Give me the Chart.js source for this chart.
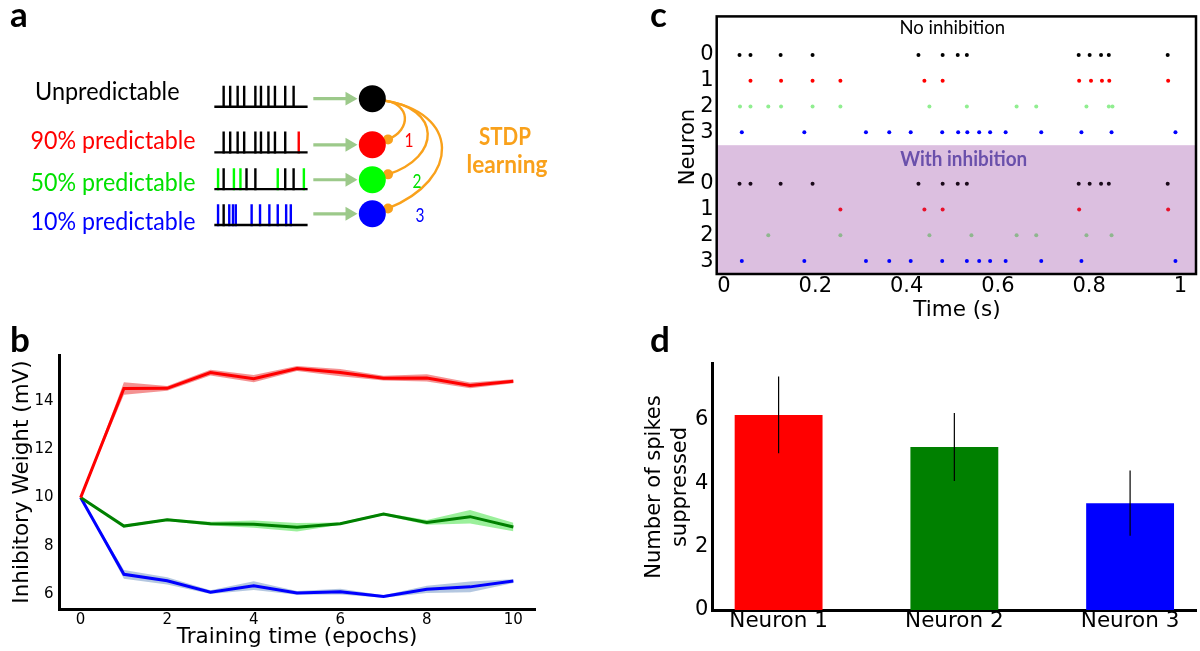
<!DOCTYPE html>
<html lang="en">
<head>
<meta charset="UTF-8">
<title>Inhibitory STDP figure</title>
<script src="https://cdn.jsdelivr.net/npm/chart.js@4.4.1/dist/chart.umd.min.js"></script>
<style>
  body { margin: 0; background: #fff; }
  #fig { position: relative; width: 1200px; height: 651px; overflow: hidden; background: #fff; }
  canvas { position: absolute; }
</style>
</head>
<body>
<div id="fig">
  <canvas id="chartA" width="560" height="260" style="left:0px;top:0px"></canvas>
  <canvas id="chartB" width="560" height="331" style="left:0px;top:320px"></canvas>
  <canvas id="chartC" width="560" height="330" style="left:640px;top:0px"></canvas>
  <canvas id="chartD" width="590" height="331" style="left:610px;top:320px"></canvas>
</div>
<script>
// ---------- data ----------
// panel a: input trains (spike time as fraction of the train, 1 = spike in the neuron's own colour)
const inputNames = ['Unpredictable', '90% predictable', '50% predictable', '10% predictable'];
const neuronColors = ['#000000', '#ff0000', '#00ff00', '#0000ff'];
const textColors = ['#000000', '#ff0000', '#00e000', '#0000ff'];
const trainSpikes = [
  [0.10, 0.17, 0.25, 0.32, 0.44, 0.50, 0.58, 0.65, 0.76, 0.85],
  [0.10, 0.17, 0.25, 0.32, 0.44, 0.50, 0.58, 0.65, 0.76, 0.905],
  [0.04, 0.10, 0.21, 0.28, 0.345, 0.44, 0.68, 0.76, 0.85, 0.96],
  [0.04, 0.10, 0.16, 0.20, 0.23, 0.40, 0.49, 0.59, 0.68, 0.77, 0.82]
];
const trainOwn = [
  [0, 0, 0, 0, 0, 0, 0, 0, 0, 0],
  [0, 0, 0, 0, 0, 0, 0, 0, 0, 1],
  [1, 0, 1, 1, 0, 0, 1, 0, 0, 1],
  [1, 0, 1, 1, 1, 1, 1, 1, 1, 1, 1]
];

// panel b: inhibitory weight over training
const epochs = [0, 1, 2, 3, 4, 5, 6, 7, 8, 9, 10];
const redMean   = [10, 14.52, 14.53, 15.18, 14.93, 15.35, 15.18, 14.95, 14.96, 14.65, 14.82];
const redSem    = [0, 0.26, 0.10, 0.12, 0.15, 0.10, 0.15, 0.10, 0.15, 0.12, 0.08];
const greenMean = [10, 8.82, 9.08, 8.92, 8.90, 8.77, 8.92, 9.32, 8.97, 9.21, 8.78];
const greenSem  = [0, 0.05, 0.05, 0.08, 0.15, 0.18, 0.05, 0.05, 0.10, 0.28, 0.18];
const blueMean  = [10, 6.82, 6.55, 6.08, 6.35, 6.05, 6.10, 5.90, 6.20, 6.30, 6.54];
const blueSem   = [0, 0.18, 0.15, 0.08, 0.18, 0.08, 0.12, 0.05, 0.15, 0.22, 0.08];
const bTicksX = [0, 2, 4, 6, 8, 10];
const bTicksY = [6, 8, 10, 12, 14];

// panel c: raster, spike times (s) per neuron
const noInhibition = [
  [0.034, 0.058, 0.124, 0.194, 0.426, 0.479, 0.512, 0.532, 0.777, 0.801, 0.826, 0.843, 0.972],
  [0.058, 0.125, 0.194, 0.255, 0.439, 0.479, 0.778, 0.804, 0.828, 0.844, 0.973],
  [0.035, 0.058, 0.097, 0.125, 0.194, 0.255, 0.450, 0.532, 0.641, 0.684, 0.794, 0.843, 0.851],
  [0.039, 0.176, 0.311, 0.362, 0.409, 0.478, 0.513, 0.533, 0.559, 0.583, 0.617, 0.695, 0.783, 0.849, 0.989]
];
const withInhibition = [
  [0.034, 0.058, 0.124, 0.194, 0.426, 0.479, 0.512, 0.532, 0.777, 0.801, 0.826, 0.843, 0.972],
  [0.255, 0.439, 0.479, 0.778, 0.973],
  [0.097, 0.255, 0.450, 0.542, 0.641, 0.684, 0.794, 0.849],
  [0.039, 0.176, 0.311, 0.362, 0.409, 0.478, 0.532, 0.559, 0.583, 0.617, 0.695, 0.783, 0.989]
];
const rasterColorsOff = ['#000000', '#ff0000', '#90ee90', '#0000ff'];
const rasterColorsOn = ['#1a0a1a', '#e8102a', '#8fb68f', '#0000ff'];
const neuronIds = ['0', '1', '2', '3'];
const cTicksX = [0, 0.2, 0.4, 0.6, 0.8, 1];
const cTickLabelsX = ['0', '0.2', '0.4', '0.6', '0.8', '1'];

// panel d: spikes suppressed
const dCategories = ['Neuron 1', 'Neuron 2', 'Neuron 3'];
const dValues = [6.15, 5.14, 3.37];
const dErrors = [1.21, 1.07, 1.03];
const dColors = ['#ff0000', '#008000', '#0000ff'];
const dTicksY = [0, 2, 4, 6];

// ---------- helpers ----------
const SANS = "'DejaVu Sans', sans-serif";
const PPT = "Lato, 'Open Sans', sans-serif";
Chart.defaults.color = '#000';
Chart.defaults.animation = false;

// slide text: given font size, squeezed sideways to the width seen in the figure
function fitText(ctx, text, x, y, width, size, weight, color, align) {
  ctx.save();
  ctx.font = weight + ' ' + size + 'px ' + PPT;
  const sx = width / ctx.measureText(text).width;
  ctx.fillStyle = color;
  ctx.textAlign = align;
  ctx.textBaseline = 'middle';
  ctx.translate(x, y);
  ctx.scale(sx, 1);
  ctx.fillText(text, 0, 0);
  ctx.restore();
}

function panelLetter(ctx, letter, x, y) {
  ctx.save();
  ctx.font = 'bold 35px ' + PPT;
  ctx.fillStyle = '#000';
  ctx.textAlign = 'left';
  ctx.textBaseline = 'alphabetic';
  ctx.fillText(letter, x, y);
  ctx.restore();
}

function axisText(ctx, text, x, y, size, rotate) {
  ctx.save();
  ctx.font = size + 'px ' + SANS;
  ctx.fillStyle = '#000';
  ctx.textAlign = 'center';
  ctx.textBaseline = 'middle';
  ctx.translate(x, y);
  if (rotate) ctx.rotate(-Math.PI / 2);
  ctx.fillText(text, 0, 0);
  ctx.restore();
}

function fixedTicks(list) {
  return s => { s.ticks = list.map(v => ({ value: v })); };
}

const noGrid = { display: false, drawTicks: false };
const spine = { display: true, color: '#000', width: 3 };
const quiet = { legend: { display: false }, tooltip: { enabled: false } };

// ---------- panel a ----------
const aLay = { x0: 211, x1: 309, spikeH: 22, shaft0: 315, shaft1: 351, head: 353, cell: 377, dot: 393.5 };
const aRowY = [95, 146.5, 185.5, 223.5];
const aBaseY = [104, 155, 196, 236];

function buildA() {
  const sets = [];
  // baselines
  aBaseY.forEach(y => sets.push({
    data: [{ x: aLay.x0, y: y }, { x: aLay.x1, y: y }],
    showLine: true, borderColor: '#000', borderWidth: 2.4, pointRadius: 0
  }));
  // spikes as vertical line markers
  const spk = [], spkCol = [];
  trainSpikes.forEach((row, r) => row.forEach((t, k) => {
    spk.push({ x: aLay.x0 + t * (aLay.x1 - aLay.x0), y: aBaseY[r] - aLay.spikeH / 2 });
    spkCol.push(trainOwn[r][k] ? neuronColors[r] : '#000');
  }));
  sets.push({ data: spk, pointStyle: 'line', rotation: 90, pointRadius: aLay.spikeH / 2,
    pointBorderColor: spkCol, pointBorderWidth: 2.4, borderWidth: 2.4 });
  // arrows
  aRowY.forEach(y => sets.push({
    data: [{ x: aLay.shaft0, y: y }, { x: aLay.shaft1, y: y }],
    showLine: true, borderColor: '#9cc98a', borderWidth: 3.2, pointRadius: 0
  }));
  sets.push({ data: aRowY.map(y => ({ x: aLay.head, y: y })), pointStyle: 'triangle', rotation: 90,
    pointRadius: 8, pointBackgroundColor: '#9cc98a', pointBorderWidth: 0 });
  // neurons
  sets.push({ data: aRowY.map(y => ({ x: aLay.cell, y: y })), pointRadius: 13.5,
    pointBackgroundColor: neuronColors, pointBorderWidth: 0 });
  // synapse dots
  sets.push({ data: aRowY.slice(1).map(y => ({ x: aLay.dot, y: y - 6 })), pointRadius: 5,
    pointBackgroundColor: '#f9a11b', pointBorderWidth: 0 });
  return sets;
}

const stdpCurves = [[418, 100, 418, 130], [450, 105, 450, 160], [470, 110, 470, 185]];

const schematicPlugin = {
  id: 'schematic',
  beforeDatasetsDraw(chart) {
    const { ctx, scales: { x, y } } = chart;
    ctx.save();
    ctx.strokeStyle = '#f9a11b';
    ctx.lineWidth = 2.4;
    stdpCurves.forEach((c, i) => {
      ctx.beginPath();
      ctx.moveTo(x.getPixelForValue(388), y.getPixelForValue(97));
      ctx.bezierCurveTo(x.getPixelForValue(c[0]), y.getPixelForValue(c[1]),
        x.getPixelForValue(c[2]), y.getPixelForValue(c[3]),
        x.getPixelForValue(aLay.dot), y.getPixelForValue(aRowY[i + 1] - 6));
      ctx.stroke();
    });
    ctx.restore();
  },
  afterDraw(chart) {
    const ctx = chart.ctx;
    fitText(ctx, inputNames[0], 35, 92, 144.5, 25, 'normal', textColors[0], 'left');
    fitText(ctx, inputNames[1], 30.5, 141, 165, 25, 'normal', textColors[1], 'left');
    fitText(ctx, inputNames[2], 30.5, 182.7, 165, 25, 'normal', textColors[2], 'left');
    fitText(ctx, inputNames[3], 30.5, 221.7, 165, 25, 'normal', textColors[3], 'left');
    fitText(ctx, '1', 409, 141, 9, 20, 'normal', '#ff0000', 'center');
    fitText(ctx, '2', 417, 182, 9, 20, 'normal', '#00e000', 'center');
    fitText(ctx, '3', 420, 216, 9, 20, 'normal', '#0000ff', 'center');
    fitText(ctx, 'STDP', 505, 137, 52, 24, 'bold', '#f9a11b', 'center');
    fitText(ctx, 'learning', 507, 165, 81, 24, 'bold', '#f9a11b', 'center');
    panelLetter(ctx, 'a', 10, 27);
  }
};

new Chart(document.getElementById('chartA'), {
  type: 'scatter',
  data: { datasets: buildA() },
  options: {
    responsive: false,
    layout: { padding: 0 },
    plugins: quiet,
    scales: {
      x: { type: 'linear', display: false, min: 0, max: 560 },
      y: { type: 'linear', display: false, min: 0, max: 260, reverse: true }
    }
  },
  plugins: [schematicPlugin]
});

// ---------- panel b ----------
function bandSets(mean, sem, line, band, base) {
  return [
    { data: epochs.map((e, i) => ({ x: e, y: mean[i] - sem[i] })), borderColor: 'transparent',
      borderWidth: 0, pointRadius: 0, fill: false, order: 2 },
    { data: epochs.map((e, i) => ({ x: e, y: mean[i] + sem[i] })), borderColor: 'transparent',
      borderWidth: 0, pointRadius: 0, fill: { target: base }, backgroundColor: band, order: 2 },
    { data: epochs.map((e, i) => ({ x: e, y: mean[i] })), borderColor: line, borderWidth: 3,
      pointRadius: 0, fill: false, order: 1 }
  ];
}

new Chart(document.getElementById('chartB'), {
  type: 'line',
  data: {
    datasets: [
      ...bandSets(redMean, redSem, '#ff0000', 'rgba(240,110,110,0.75)', 0),
      ...bandSets(greenMean, greenSem, '#008000', 'rgba(144,238,144,0.9)', 3),
      ...bandSets(blueMean, blueSem, '#0000ff', 'rgba(176,196,222,0.95)', 6)
    ]
  },
  options: {
    responsive: false,
    layout: { padding: { left: 0, right: 25, top: 35, bottom: 0 } },
    plugins: quiet,
    scales: {
      x: {
        type: 'linear', min: -0.5, max: 10.5,
        afterBuildTicks: fixedTicks(bTicksX),
        afterFit: s => { s.height = 41.7; },
        grid: noGrid, border: spine,
        ticks: { font: { family: SANS, size: 15, lineHeight: 1 }, color: '#000', padding: 3.2,
          maxRotation: 0, autoSkip: false }
      },
      y: {
        type: 'linear', min: 5.37, max: 15.91,
        afterBuildTicks: fixedTicks(bTicksY),
        afterFit: s => { s.width = 59; },
        grid: noGrid, border: spine,
        ticks: { font: { family: SANS, size: 15, lineHeight: 1 }, color: '#000', padding: 5.5, autoSkip: false }
      }
    }
  },
  plugins: [{
    id: 'titlesB',
    afterDraw(chart) {
      const ctx = chart.ctx;
      axisText(ctx, 'Training time (epochs)', 297, 317, 21.5, false);
      axisText(ctx, 'Inhibitory Weight (mV)', 22, 162, 21.5, true);
      panelLetter(ctx, 'b', 10, 32);
    }
  }]
});

// ---------- panel c ----------
function rasterSets(rows, colors, offset) {
  return rows.map((times, r) => ({
    data: times.map(t => ({ x: t, y: r + offset })),
    pointRadius: 2, pointBackgroundColor: colors[r], pointBorderWidth: 0
  }));
}

const rasterPlugin = {
  id: 'raster',
  beforeDatasetsDraw(chart) {
    const { ctx, chartArea: a, scales: { y } } = chart;
    ctx.save();
    ctx.fillStyle = '#dcbfe0';
    const top = y.getPixelForValue(3.5);
    ctx.fillRect(a.left, top, a.right - a.left, a.bottom - top);
    ctx.restore();
  },
  afterDraw(chart) {
    const { ctx, chartArea: a, scales: { x, y } } = chart;
    ctx.save();
    ctx.strokeStyle = '#000';
    ctx.lineWidth = 2.5;
    ctx.strokeRect(a.left, a.top, a.right - a.left, a.bottom - a.top);
    ctx.restore();
    fitText(ctx, 'No inhibition', x.getPixelForValue(0.5), y.getPixelForValue(-1.06), 105.7, 20, 'normal', '#000', 'center');
    fitText(ctx, 'With inhibition', x.getPixelForValue(0.525), y.getPixelForValue(4.05), 127, 20.5, 'bold', '#6a50ab', 'center');
    axisText(ctx, 'Time (s)', 317, 310, 21.5, false);
    axisText(ctx, 'Neuron', 49, 147, 21, true);
    panelLetter(ctx, 'c', 10, 27);
  }
};

new Chart(document.getElementById('chartC'), {
  type: 'scatter',
  data: {
    datasets: [
      ...rasterSets(noInhibition, rasterColorsOff, 0),
      ...rasterSets(withInhibition, rasterColorsOn, 5)
    ]
  },
  options: {
    responsive: false,
    layout: { padding: { left: 0, right: 1.7, top: 16.4, bottom: 0 } },
    plugins: quiet,
    scales: {
      x: {
        type: 'linear', min: -0.016, max: 1.034,
        afterBuildTicks: fixedTicks(cTicksX),
        afterFit: s => { s.height = 56; },
        grid: noGrid, border: { display: false },
        ticks: { font: { family: SANS, size: 21, lineHeight: 1 }, color: '#000', padding: 2,
          maxRotation: 0, autoSkip: false, callback: (v, i) => cTickLabelsX[i] }
      },
      y: {
        type: 'linear', min: -1.5, max: 8.5, reverse: true,
        afterBuildTicks: fixedTicks([0, 1, 2, 3, 5, 6, 7, 8]),
        afterFit: s => { s.width = 76.7; },
        grid: noGrid, border: { display: false },
        ticks: { font: { family: SANS, size: 21, lineHeight: 1 }, color: '#000', padding: 3,
          autoSkip: false, callback: (v, i) => neuronIds[i % 4] }
      }
    }
  },
  plugins: [rasterPlugin]
});

// ---------- panel d ----------
new Chart(document.getElementById('chartD'), {
  type: 'bar',
  data: {
    datasets: [{
      data: dValues.map((v, i) => ({ x: i, y: v })),
      backgroundColor: dColors, borderWidth: 0,
      categoryPercentage: 1, barPercentage: 0.5
    }]
  },
  options: {
    responsive: false,
    layout: { padding: { left: 0, right: 4, top: 43.3, bottom: 0 } },
    plugins: quiet,
    scales: {
      x: {
        type: 'linear', min: -0.375, max: 2.375, offset: false,
        afterBuildTicks: fixedTicks([0, 1, 2]),
        afterFit: s => { s.height = 41; },
        grid: { display: false, drawTicks: false, offset: false }, border: spine,
        ticks: { font: { family: SANS, size: 21.5, lineHeight: 1 }, color: '#000', padding: 1,
          maxRotation: 0, autoSkip: false, callback: (v, i) => dCategories[i] }
      },
      y: {
        type: 'linear', min: 0, max: 7.78,
        afterBuildTicks: fixedTicks(dTicksY),
        afterFit: s => { s.width = 102.7; },
        grid: noGrid, border: spine,
        ticks: { font: { family: SANS, size: 21, lineHeight: 1 }, color: '#000', padding: 4.4, autoSkip: false }
      }
    }
  },
  plugins: [{
    id: 'errorBars',
    afterDatasetsDraw(chart) {
      const { ctx, scales: { x, y } } = chart;
      ctx.save();
      ctx.strokeStyle = '#000';
      ctx.lineWidth = 1.2;
      dValues.forEach((v, i) => {
        const px = x.getPixelForValue(i);
        ctx.beginPath();
        ctx.moveTo(px, y.getPixelForValue(v - dErrors[i]));
        ctx.lineTo(px, y.getPixelForValue(v + dErrors[i]));
        ctx.stroke();
      });
      ctx.restore();
    },
    afterDraw(chart) {
      const ctx = chart.ctx;
      axisText(ctx, 'Number of spikes', 45, 167, 21, true);
      axisText(ctx, 'suppressed', 71, 167, 21, true);
      panelLetter(ctx, 'd', 40, 32);
    }
  }]
});
</script>
</body>
</html>
